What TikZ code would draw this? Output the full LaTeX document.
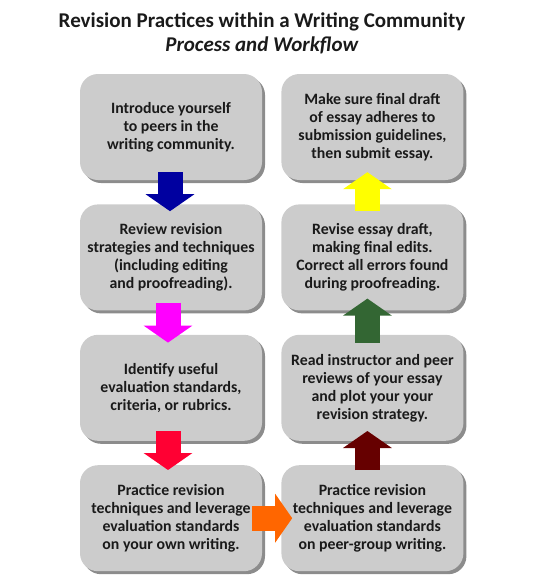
\documentclass[tikz,border=0pt]{standalone}
\usepackage{fontspec}
\setmainfont{Carlito}
\usepackage{tikz}
\usetikzlibrary{arrows.meta, positioning, shadows}
\definecolor{boxgray}{RGB}{204,204,204}
\definecolor{inkdark}{RGB}{26,26,26}
\definecolor{arrowblue}{RGB}{0,0,160}
\definecolor{arrowmagenta}{RGB}{255,0,255}
\definecolor{arrowred}{RGB}{255,0,51}
\definecolor{arroworange}{RGB}{255,102,0}
\definecolor{arrowmaroon}{RGB}{102,0,0}
\definecolor{arrowgreen}{RGB}{51,102,51}
\definecolor{arrowyellow}{RGB}{255,255,0}
\tikzset{
    step_box/.style={rectangle, rounded corners=18pt, fill=boxgray, minimum width=182pt, minimum height=106pt, align=center, text=inkdark, font=\bfseries\fontsize{15.8}{18}\selectfont, drop shadow={shadow xshift=3pt, shadow yshift=-3pt, fill=black, opacity=0.45}},
    flow_arrow/.style={line width=25pt, -{Triangle[length=17pt, width=48pt]}}
}

\begin{document}
\begin{tikzpicture}[node distance=24pt and 19pt]
            \useasboundingbox (0pt,0pt) rectangle (541pt,-581pt);

            \node (title) [align=center, text=inkdark, font=\bfseries\fontsize{21}{24}\selectfont] at (262pt,-33pt)
                {Revision Practices within a Writing Community\\\textit{Process and Workflow}};

            % Left column (downwards)
			\node (intro) [step_box] at (171pt,-127pt) {Introduce yourself\\to peers in the\\writing community.};
			\node (review) [step_box, below=of intro] {Review revision\\strategies and techniques\\(including editing\\and proofreading).};
			\node (identify) [step_box, below=of review] {Identify useful\\evaluation standards,\\criteria, or rubrics.};
			\node (practown) [step_box, below=of identify] {Practice revision\\techniques and leverage\\evaluation standards\\on your own writing.};

            % Right column (upwards)
			\node (practpeer) [step_box, right=of practown] {Practice revision\\techniques and leverage\\evaluation standards\\on peer-group writing.};
			\node (read) [step_box, right=of identify] {Read instructor and peer\\reviews of your essay\\and plot your your\\revision strategy.};
			\node (revise) [step_box, right=of review] {Revise essay draft,\\making final edits.\\Correct all errors found\\during proofreading.};
			\node (submit) [step_box, right=of intro] {Make sure final draft\\of essay adheres to\\submission guidelines,\\then submit essay.};

            % Block arrows
            \draw [flow_arrow, arrowblue] ([xshift=-1pt, yshift=8pt]intro.south) -- ([xshift=-1pt, yshift=-7pt]review.north);
            \draw [flow_arrow, arrowmagenta] ([xshift=-3pt, yshift=8pt]review.south) -- ([xshift=-3pt, yshift=-8pt]identify.north);
            \draw [flow_arrow, arrowred] ([xshift=-3pt, yshift=10pt]identify.south) -- ([xshift=-3pt, yshift=-5pt]practown.north);
            \draw [flow_arrow, arroworange] ([xshift=-10pt]practown.east) -- ([xshift=11pt]practpeer.west);
            \draw [flow_arrow, arrowmaroon] ([xshift=-5pt, yshift=-5pt]practpeer.north) -- ([xshift=-5pt, yshift=10pt]read.south);
            \draw [flow_arrow, arrowgreen] ([xshift=-5pt, yshift=-8pt]read.north) -- ([xshift=-5pt, yshift=12pt]revise.south);
            \draw [flow_arrow, arrowyellow] ([xshift=-5pt, yshift=-7pt]revise.north) -- ([xshift=-5pt, yshift=8pt]submit.south);
		\end{tikzpicture}
\end{document}
